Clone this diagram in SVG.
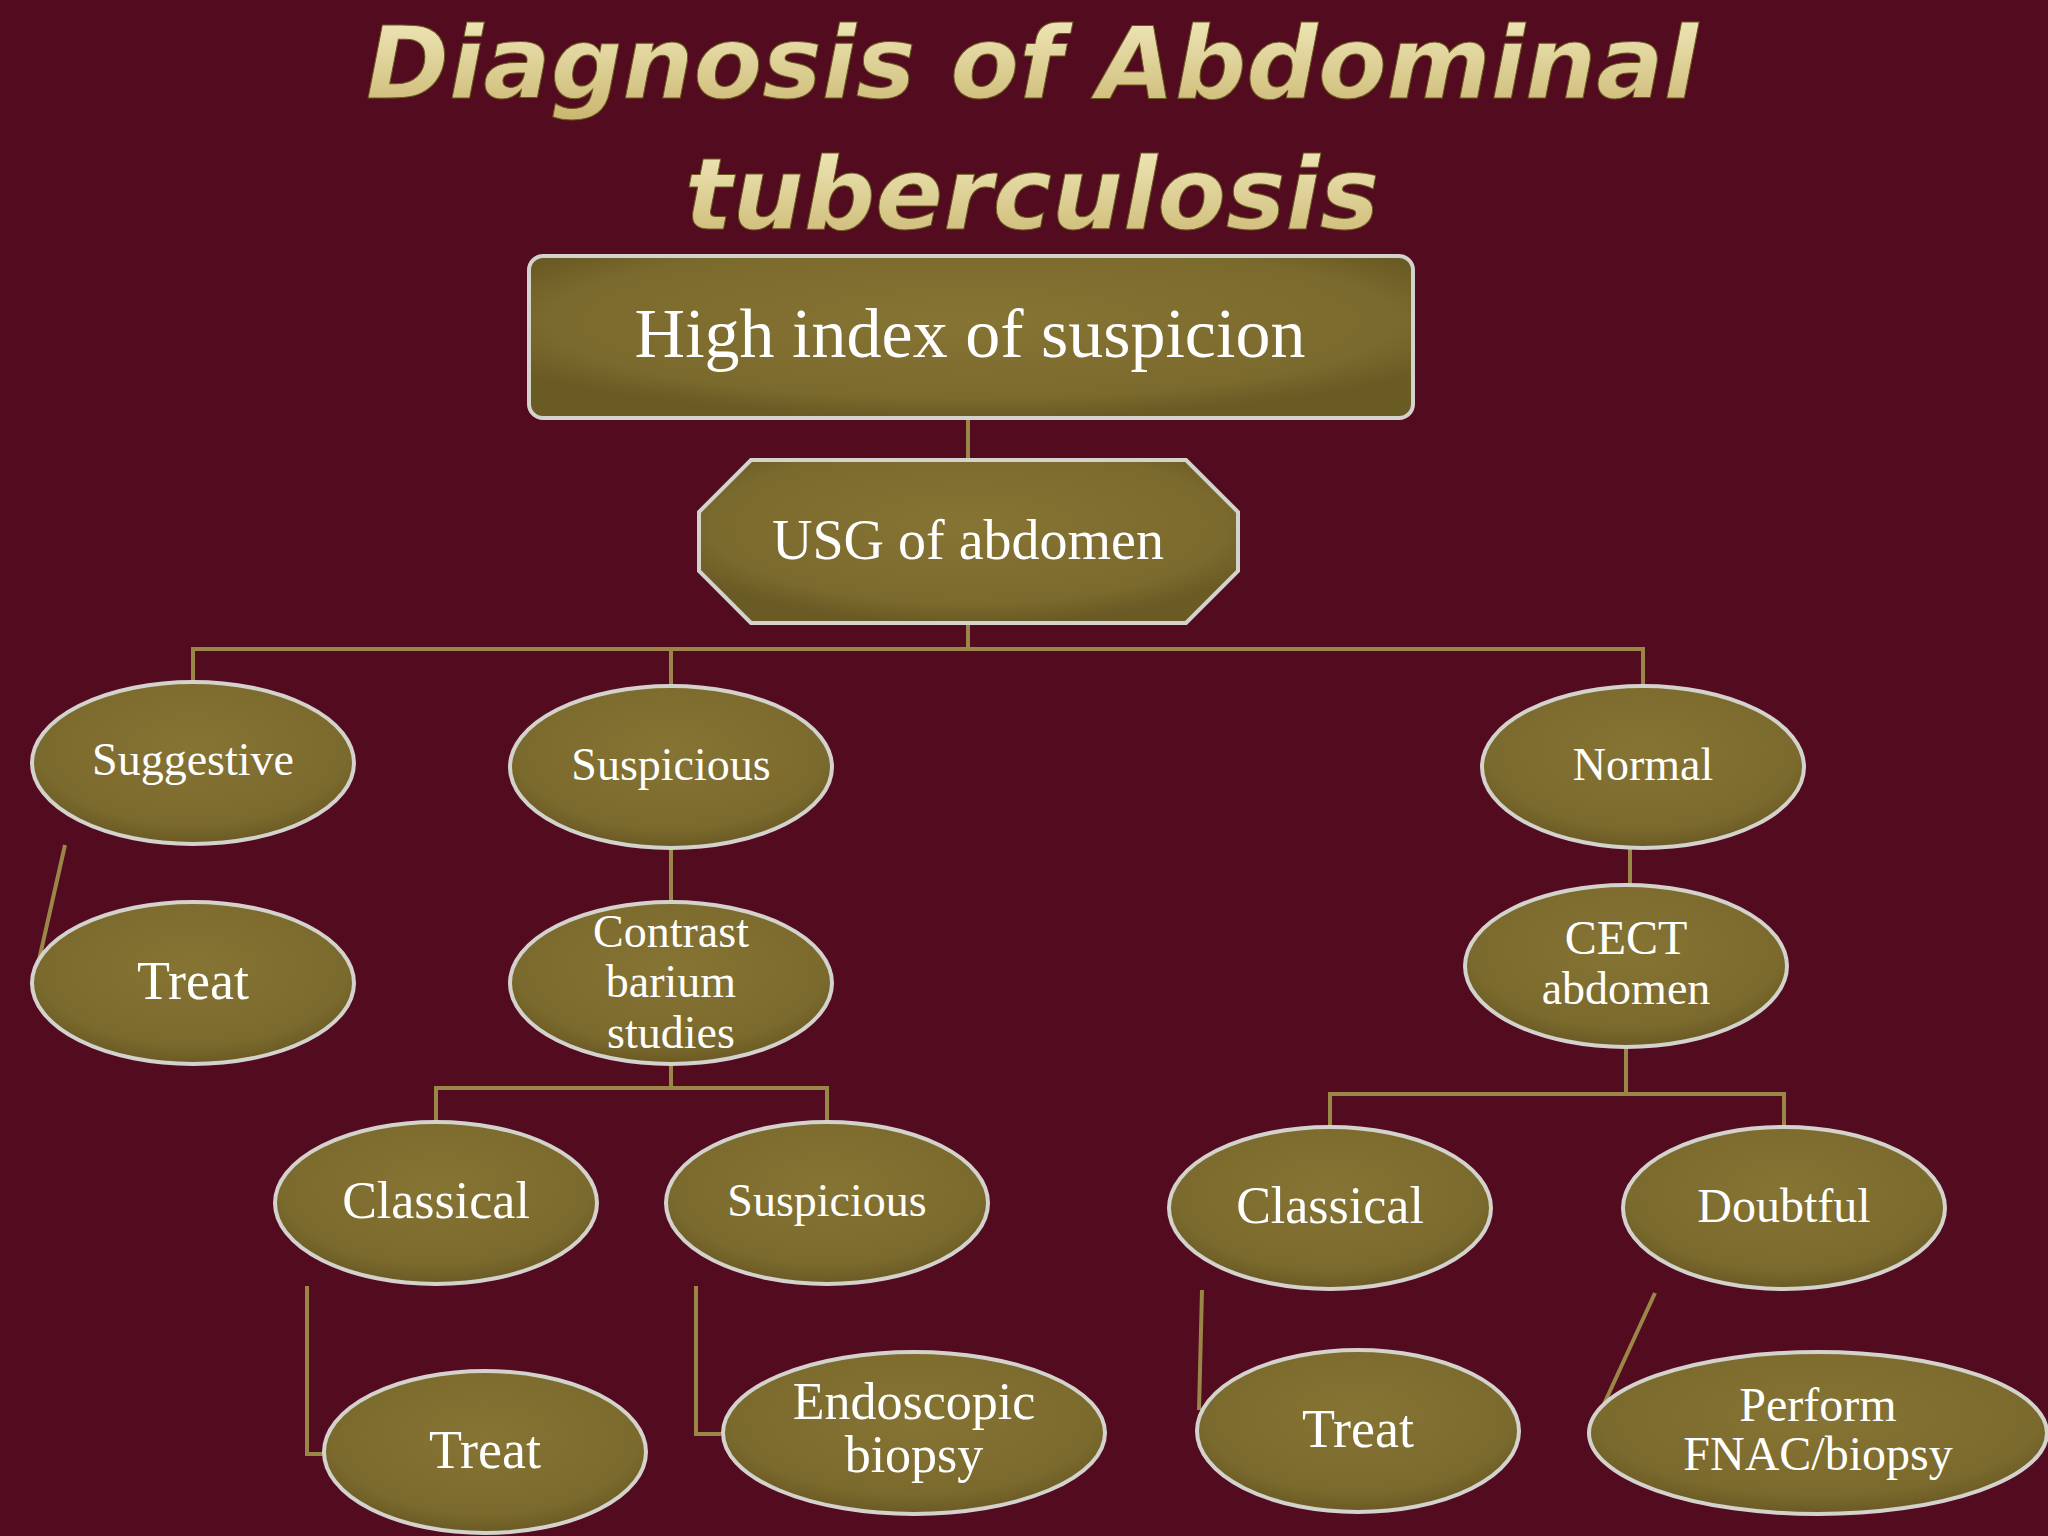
<svg xmlns="http://www.w3.org/2000/svg" width="2048" height="1536" viewBox="0 0 2048 1536">
<defs>
<radialGradient id="g" cx="0.5" cy="0.4" r="0.6"><stop offset="0" stop-color="#857433"/><stop offset="0.8" stop-color="#7b6a2d"/><stop offset="1" stop-color="#6a5a24"/></radialGradient>
<linearGradient id="tg" x1="0" y1="0" x2="0" y2="1"><stop offset="0" stop-color="#f3ecc0"/><stop offset="1" stop-color="#c9b56e"/></linearGradient>
</defs>
<style>
.n{fill:url(#g);stroke:#d4d2cc;stroke-width:4}
.t{font-family:"Liberation Serif",serif;fill:#fff;text-anchor:middle}
.c{stroke:#9a8747;stroke-width:4;fill:none}
.h{font-family:"DejaVu Sans",sans-serif;font-weight:bold;font-style:italic;fill:url(#tg);text-anchor:middle;font-size:100px;stroke:#6b5a20;stroke-width:1}
</style>
<rect width="2048" height="1536" fill="#520b1f"/>
<text class="h" x="1032" y="98">Diagnosis of Abdominal</text>
<text class="h" x="1032" y="229">tuberculosis</text>
<g id="connectors">
<path class="c" d="M968 418V460M968 623V649M193 682V649H1643V688M671 649V688"/>
<path class="c" d="M671 849V901M671 1064V1088M436 1123V1088H827V1123"/>
<path class="c" d="M1630 849V888M1626 1049V1094M1330 1130V1094H1784V1130"/>
<path class="c" d="M65 845L39 960M307 1286V1454H324M696 1286V1434H721M1202 1290L1199 1410M1655 1293L1604 1404"/>
</g>
<g id="high"><rect class="n" x="529" y="256" width="884" height="162" rx="14"/><text class="t" x="970" y="357" font-size="70">High index of suspicion</text></g>
<g id="usg"><polygon class="n" points="751,460 1186,460 1238,512 1238,571 1186,623 751,623 699,571 699,512"/><text class="t" x="968" y="559" font-size="56">USG of abdomen</text></g>
<g id="suggestive"><ellipse class="n" cx="193" cy="763" rx="161" ry="81"/><text class="t" x="193" y="775" font-size="46">Suggestive</text></g>
<g id="treat1"><ellipse class="n" cx="193" cy="983" rx="161" ry="81"/><text class="t" x="193" y="999" font-size="54">Treat</text></g>
<g id="suspicious"><ellipse class="n" cx="671" cy="767" rx="161" ry="81"/><text class="t" x="671" y="780" font-size="46">Suspicious</text></g>
<g id="contrast"><ellipse class="n" cx="671" cy="983" rx="161" ry="81"/><text class="t" x="671" y="947" font-size="46">Contrast</text><text class="t" x="671" y="997" font-size="46">barium</text><text class="t" x="671" y="1048" font-size="46">studies</text></g>
<g id="normal"><ellipse class="n" cx="1643" cy="767" rx="161" ry="81"/><text class="t" x="1643" y="780" font-size="46">Normal</text></g>
<g id="cect"><ellipse class="n" cx="1626" cy="966" rx="161" ry="81"/><text class="t" x="1626" y="954" font-size="48">CECT</text><text class="t" x="1626" y="1004" font-size="46">abdomen</text></g>
<g id="classical1"><ellipse class="n" cx="436" cy="1203" rx="161" ry="81"/><text class="t" x="436" y="1218" font-size="52">Classical</text></g>
<g id="suspicious2"><ellipse class="n" cx="827" cy="1203" rx="161" ry="81"/><text class="t" x="827" y="1216" font-size="46">Suspicious</text></g>
<g id="classical2"><ellipse class="n" cx="1330" cy="1208" rx="161" ry="81"/><text class="t" x="1330" y="1223" font-size="52">Classical</text></g>
<g id="doubtful"><ellipse class="n" cx="1784" cy="1208" rx="161" ry="81"/><text class="t" x="1784" y="1222" font-size="48">Doubtful</text></g>
<g id="treat2"><ellipse class="n" cx="485" cy="1452" rx="161" ry="81"/><text class="t" x="485" y="1468" font-size="54">Treat</text></g>
<g id="endoscopic"><ellipse class="n" cx="914" cy="1433" rx="191" ry="81"/><text class="t" x="914" y="1419" font-size="52">Endoscopic</text><text class="t" x="914" y="1472" font-size="52">biopsy</text></g>
<g id="treat3"><ellipse class="n" cx="1358" cy="1431" rx="161" ry="81"/><text class="t" x="1358" y="1447" font-size="54">Treat</text></g>
<g id="perform"><ellipse class="n" cx="1818" cy="1433" rx="229" ry="81"/><text class="t" x="1818" y="1421" font-size="48">Perform</text><text class="t" x="1818" y="1470" font-size="48">FNAC/biopsy</text></g>
</svg>
